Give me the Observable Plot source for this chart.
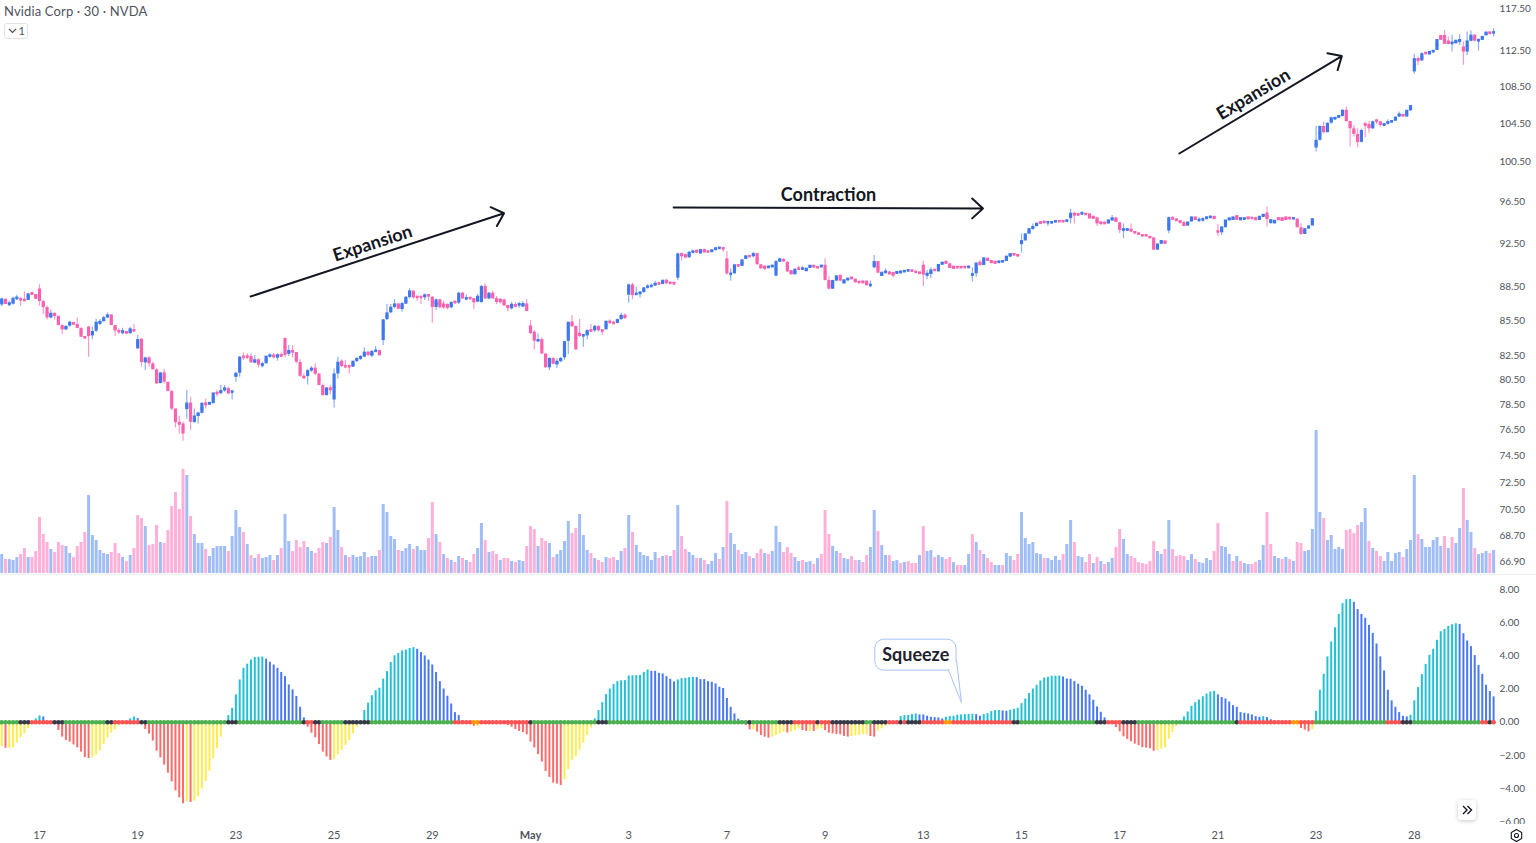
<!DOCTYPE html>
<html>
<head>
<meta charset="utf-8">
<script src="https://cdn.jsdelivr.net/npm/d3@7"></script>
<script src="https://cdn.jsdelivr.net/npm/@observablehq/plot@0.6"></script>
<style>
html,body{margin:0;padding:0;background:#fff;overflow:hidden}
#chart{position:relative;width:1536px;height:843px;font-family:Lato,sans-serif;overflow:hidden}
#chart svg.p{position:absolute;left:0}
.title{position:absolute;left:4px;top:3px;font-size:13px;color:#50535e;letter-spacing:.15px}
.tog{position:absolute;left:4px;top:23px;width:20px;height:14px;padding-right:2px;border:1px solid #e0e3eb;border-radius:3px;font-size:11px;color:#50535e;line-height:14px;text-align:right}
.tog svg{position:absolute;left:3px;top:4px}
.sep{position:absolute;left:0;top:574px;width:1536px;height:1px;background:#eef0f6}
.btn{position:absolute;left:1458px;top:800px;width:18px;height:20px;background:#fff;border-radius:3px;box-shadow:0 1px 4px rgba(0,0,0,.22)}
.gear{position:absolute;left:1509px;top:828px}
.cover{position:absolute;left:1496px;top:824px;width:40px;height:19px;background:#fff}
</style>
</head>
<body>
<div id="chart">
<div class="title">Nvidia Corp · 30 · NVDA</div>
<div class="tog"><svg width="9" height="6"><path d="M1 1l3.5 3.5L8 1" fill="none" stroke="#50535e" stroke-width="1.2"/></svg>1</div>
<div class="sep"></div>
</div>
<script>
// [open, high, low, close]
const candlesApr17 = [
[86.88,87.47,86.73,87.41],[87.38,87.38,86.91,86.91],[86.88,87.21,86.73,87.06],[86.94,87.56,86.85,87.47],[87.41,87.74,87.27,87.56],[87.41,87.56,86.76,87.32],[87.35,88.06,87.27,87.27],[87.27,87.86,87.27,87.86],[87.95,88.0,87.8,87.8],[87.8,87.8,87.38,87.38],
[88.3,88.69,86.76,87.18],[87.18,87.27,86.03,86.64],[86.64,86.79,85.56,85.73],[85.73,86.44,85.64,86.14],[86.14,86.17,85.56,85.88],[85.88,85.88,85.07,85.07],[85.07,85.16,84.3,84.7],[84.7,85.01,84.7,85.01],[85.04,85.44,84.93,85.36],[85.33,85.33,85.16,85.16],
[85.16,85.73,84.79,84.84],[84.84,84.84,84.07,84.07],[84.1,84.1,84.01,84.01],[84.93,85.01,82.38,84.13],[84.18,84.93,83.85,84.56],[84.58,85.65,84.5,85.36],[85.21,85.59,85.07,85.44],[85.41,85.88,85.36,85.76],[85.76,86.17,85.7,86.0],[86.0,86.0,85.07,85.07],
[85.07,85.07,84.13,84.61],[84.64,84.79,84.3,84.53],[84.44,84.84,84.27,84.61],[84.56,84.56,84.38,84.38],[84.38,84.93,84.27,84.79],[84.7,85.16,84.44,84.61],[83.08,84.21,83.03,83.87],[83.9,83.93,81.54,81.93],[81.9,82.38,81.26,82.32],[82.32,82.43,81.54,81.82],
[81.82,81.93,81.32,81.32],[81.32,81.4,80.16,80.16],[80.19,81.07,80.19,81.07],[81.07,81.34,80.16,80.3],[80.3,80.3,79.54,79.54],[79.54,79.62,78.01,78.14],[78.14,78.14,76.65,77.06],[77.09,77.56,76.18,76.91],[76.96,77.09,75.61,76.18],[78.09,79.62,77.35,78.62],
[78.62,79.08,76.44,77.09],[77.06,78.14,77.06,77.59],[77.56,77.88,76.96,77.83],[77.8,78.67,77.75,78.59],[78.62,78.94,78.14,78.46],[78.49,78.67,78.49,78.67],[78.57,79.43,78.57,79.43],[79.48,79.62,79.08,79.35],[79.4,80.03,79.29,79.62],[79.62,80.03,79.48,79.84],
[79.78,79.89,79.29,79.35],[79.51,79.56,78.86,79.56],[80.71,81.12,80.3,81.04],[81.04,82.43,80.71,82.38],[82.43,82.74,82.1,82.38],[82.46,82.66,82.16,82.38],[82.43,82.66,81.87,81.9],[81.9,82.52,81.82,82.16],[82.16,82.24,81.48,81.71],[81.65,81.96,81.48,81.82],
[81.82,82.46,81.82,82.46],[82.43,82.66,82.32,82.55],[82.55,82.66,82.24,82.38],[82.32,82.66,82.04,82.58],[82.6,82.72,82.32,82.43],[83.96,84.01,82.32,82.52],[82.63,83.36,82.43,82.94],[82.94,83.36,82.32,82.77],[82.77,82.8,81.82,81.96],[81.93,82.16,80.71,80.79],
[80.79,80.98,80.52,80.63],[80.76,81.32,80.08,81.26],[81.26,81.59,81.12,81.46],[81.46,81.82,80.85,80.96],[80.98,80.98,80.03,80.03],[80.03,80.16,79.18,79.21],[79.21,79.84,79.21,79.84],[79.84,80.03,79.29,79.65],[78.86,81.4,78.22,80.98],[80.98,82.38,80.57,81.96],
[82.04,82.16,81.54,81.59],[81.65,82.1,81.4,81.59],[81.65,81.68,80.98,81.59],[81.54,82.04,81.54,82.04],[82.04,82.32,81.93,82.27],[82.24,82.52,82.1,82.43],[82.38,83.17,82.32,82.8],[82.8,82.86,82.43,82.55],[82.46,82.94,82.32,82.86],[82.88,83.28,82.8,82.94],
[82.94,82.94,82.49,82.49]];
const candlesApr29 = [
[83.78,85.6,83.35,85.57],[85.59,86.91,85.51,86.18],[86.18,86.91,86.09,86.68],[86.68,87.35,86.53,86.97],[86.97,86.97,86.5,86.5],[86.47,87.12,86.24,87.0],[86.94,87.62,86.91,87.56],[87.53,88.31,87.41,88.13],[88.1,88.16,87.41,87.5],
[87.62,87.62,87.21,87.56],[87.62,87.62,86.91,87.56],[87.56,87.86,87.27,87.77],[87.77,87.8,87.21,87.68],[87.56,87.62,85.27,86.65],[86.65,87.41,86.38,87.33],[87.33,87.38,86.53,86.62],[86.97,87.21,86.5,86.62],[86.91,86.97,86.44,86.59],[86.62,87.15,86.53,87.09],
[87.18,87.27,86.97,87.06],[87.03,87.98,86.91,87.92],[87.92,87.98,87.35,87.41],[87.41,87.77,87.27,87.5],[87.53,87.56,87.32,87.44],[87.44,87.44,86.47,87.06],[87.12,87.8,87.06,87.65],[87.09,88.61,87.03,88.52],[88.52,88.76,87.35,87.41],[87.41,87.98,87.32,87.92],
[87.92,88.1,87.38,87.41],[87.44,87.62,86.91,87.09],[87.38,87.44,86.97,87.09],[87.33,87.38,86.73,86.79],[86.82,86.85,86.27,86.59],[86.53,87.12,86.44,86.94],[86.91,87.09,86.62,86.71],[86.85,87.12,86.59,86.97],[86.71,87.18,86.62,87.0],[86.97,87.33,86.27,86.3],
[85.04,85.51,84.29,84.38],[84.5,84.64,82.99,83.72],[83.72,84.35,83.72,83.86],[83.86,84.01,82.6,82.65],[82.65,82.65,81.46,81.49],[81.49,82.32,81.27,82.27],[82.27,82.32,81.74,81.79],[81.74,82.24,81.43,82.04],[82.02,82.38,81.93,82.27],[82.32,83.72,82.1,83.69],
[83.72,85.36,82.6,85.36],[85.39,85.94,84.93,84.96],[84.99,85.04,82.93,82.99],[84.41,85.62,84.07,84.15],[84.18,84.29,83.21,84.27],[84.18,84.7,83.84,84.64],[84.7,85.16,84.53,84.58],[84.61,85.07,84.5,85.01],[84.99,85.07,84.53,84.61],[84.67,84.7,84.21,84.61],
[84.7,85.45,84.7,85.45],[85.45,85.57,85.22,85.3],[85.33,85.45,85.16,85.25],[85.27,85.65,85.22,85.59],[85.59,86.15,85.51,85.97],[85.97,86.09,85.57,85.71],[87.74,88.76,87.03,88.67],[88.67,88.82,87.32,87.71],[87.83,88.46,87.71,87.89],[87.86,88.07,87.5,88.01],
[87.98,88.46,87.92,88.4],[88.43,88.7,88.31,88.55],[88.52,88.76,88.46,88.61],[88.61,89.0,88.52,88.82],[88.82,88.91,88.61,88.76],[88.7,89.09,88.7,89.09],[89.09,89.18,88.7,88.79],[88.88,88.91,88.7,88.82],[88.88,88.91,88.61,88.76],[89.28,91.57,89.06,91.51],
[91.54,91.6,90.84,91.27],[91.45,91.51,91.05,91.15],[91.15,91.73,91.08,91.67],[91.64,91.88,91.58,91.76],[91.85,91.88,91.55,91.61],[91.51,91.94,91.45,91.91],[91.91,91.98,91.58,91.64],[91.76,91.76,91.7,91.7],[91.7,91.91,91.64,91.88],[91.88,92.13,91.82,92.07],
[92.04,92.1,92.04,92.1],[92.1,92.13,91.67,91.95],[91.05,91.73,89.52,89.67],[89.64,90.13,89.0,89.7],[89.67,90.5,89.67,90.5],[90.5,90.5,90.38,90.38],[90.35,90.96,90.35,90.96],[91.02,91.33,91.02,91.33],[91.33,91.33,91.27,91.27],[91.27,91.64,91.15,91.54],
[91.54,91.54,90.5,90.5],[90.5,90.5,90.13,90.13]];
const candlesMay9 = [
[90.37,90.43,89.98,90.13],[90.22,90.37,90.22,90.37],[90.28,90.46,90.28,90.46],[89.46,90.89,89.43,90.8],[90.77,91.14,90.71,91.05],[90.99,91.08,90.77,90.83],[90.71,90.8,89.79,89.85],[89.98,89.98,89.58,89.58],
[89.58,90.1,89.58,90.1],[90.19,90.34,89.98,90.1],[90.1,90.34,89.98,90.19],[89.88,90.19,89.88,90.19],[90.19,90.46,90.19,90.46],[90.46,90.46,90.25,90.25],[90.34,90.34,90.19,90.19],[90.28,90.46,90.28,90.46],[90.46,91.05,89.01,89.07],[89.07,89.43,88.22,88.28],
[88.28,89.07,88.28,89.07],[89.01,89.49,89.01,89.49],[89.52,89.61,88.95,89.01],[88.76,89.13,88.76,89.13],[89.07,89.28,89.07,89.28],[89.37,89.37,89.19,89.19],[89.19,89.19,88.86,88.86],[88.98,88.98,88.86,88.86],[89.01,89.01,88.83,88.83],[89.01,89.01,88.58,88.58],
[88.61,89.01,88.4,88.7],[90.22,91.36,90.13,90.8],[90.8,90.8,89.73,89.73],[89.43,89.82,89.43,89.82],[89.76,90.13,89.67,89.92],[89.85,89.85,89.61,89.61],[89.79,89.85,89.31,89.49],[89.67,89.88,89.67,89.88],[89.73,89.92,89.73,89.92],[89.85,89.98,89.85,89.98],
[89.95,90.01,89.95,90.01],[90.01,90.01,89.92,89.92],[89.88,89.88,89.82,89.82],[89.82,89.82,89.7,89.7],[90.46,90.83,88.52,89.55],[89.49,89.98,89.13,89.73],[89.61,90.22,89.22,90.04],[90.07,90.07,89.98,89.98],[89.85,90.53,89.85,90.53],[90.5,90.74,90.5,90.74],
[90.8,90.89,90.53,90.59],[90.59,90.59,90.16,90.16],[90.37,90.37,90.1,90.1],[90.34,90.34,90.22,90.22],[90.34,90.34,90.22,90.22],[90.34,90.34,90.25,90.25],[90.22,90.37,90.22,90.37],[89.52,90.22,88.92,89.67],[89.67,90.74,89.37,90.65],[90.74,90.89,90.34,90.46],
[90.43,91.14,90.43,91.14],[91.11,91.11,90.83,90.83],[90.89,90.89,90.65,90.65],[90.83,90.83,90.59,90.59],[90.71,90.83,90.71,90.83],[90.74,90.89,90.74,90.89],[90.8,91.3,90.8,91.3],[91.23,91.54,91.23,91.54],[91.54,91.54,91.39,91.39],[91.45,91.45,91.3,91.3],
[92.38,93.4,91.57,92.76],[92.73,93.4,92.73,93.4],[93.37,93.9,93.37,93.9],[93.87,94.35,93.77,94.09],[94.09,94.42,94.09,94.42],[94.57,94.57,94.35,94.35],[94.6,94.6,94.45,94.45],[94.48,94.54,94.09,94.54],[94.45,94.54,94.45,94.54],[94.51,94.67,94.51,94.67],
[94.64,94.64,94.57,94.57],[94.67,94.67,94.54,94.54],[94.6,94.7,94.6,94.7],[94.86,95.77,94.35,95.38],[95.38,95.51,94.35,95.16],[95.32,95.32,95.19,95.19],[95.29,95.58,95.22,95.42],[95.35,95.35,95.26,95.26],[95.32,95.32,94.83,94.83],[95.09,95.09,94.83,94.83],
[94.93,94.99,94.09,94.35],[94.54,94.54,94.32,94.32],[94.51,94.51,94.35,94.35],[94.35,94.73,94.35,94.73],[94.67,95.16,94.6,94.93],[94.93,94.93,94.51,94.51],[94.45,94.51,93.4,93.71],[93.71,94.35,92.92,93.87],[93.74,93.87,93.74,93.87],[93.84,94.35,93.55,93.62],
[93.62,93.62,93.46,93.46],[93.46,93.46,93.37,93.37]];
const candlesMay20 = [
[93.31,93.31,93.21,93.21],[93.31,93.31,93.21,93.21],[93.15,93.15,93.02,93.02],[93.02,93.02,91.86,91.86],[91.86,92.44,91.86,92.44],[92.44,92.76,92.44,92.76],[92.73,92.73,92.44,92.44],[93.66,95.02,93.4,94.95],
[94.95,95.08,94.69,94.79],[94.82,94.82,94.63,94.63],[94.63,94.69,94.31,94.5],[94.5,94.56,94.05,94.11],[94.15,94.53,94.15,94.53],[94.53,95.02,94.53,95.02],[95.02,95.02,94.69,94.69],[94.69,94.95,94.5,94.76],[94.72,94.95,94.5,94.82],[94.82,95.02,94.82,95.02],
[94.95,95.08,94.95,95.08],[95.08,95.08,94.79,94.79],[93.66,94.31,93.15,93.56],[93.5,94.11,93.24,94.05],[93.98,94.72,93.98,94.72],[94.69,94.92,94.69,94.92],[94.69,95.02,94.69,95.02],[95.15,95.15,94.69,94.69],[94.69,94.95,94.69,94.95],[94.79,94.92,94.79,94.92],
[95.02,95.02,94.79,94.79],[94.95,94.95,94.89,94.89],[94.95,94.95,94.69,94.69],[94.69,95.08,94.69,95.08],[95.02,95.27,95.02,95.27],[95.4,95.98,94.05,94.76],[94.37,94.76,94.37,94.76],[94.37,94.69,94.37,94.69],[94.95,94.95,94.69,94.69],[94.95,94.95,94.59,94.59],
[95.02,95.02,94.69,94.69],[94.98,94.98,94.82,94.82],[94.82,94.95,94.82,94.95],[94.82,94.82,93.98,93.98],[93.98,94.37,93.24,93.34],[93.34,93.89,93.34,93.89],[93.89,94.15,93.89,94.15],[94.15,94.85,94.15,94.85]];
const candlesMay23 = [
[101.93,104.19,101.51,102.73],[102.73,104.26,102.66,104.19],[104.19,104.65,103.42,103.53],[103.53,104.54,103.53,104.54],[104.54,105.19,104.4,105.12],[104.94,105.16,104.94,105.16],[105.12,105.37,105.12,105.37],[105.26,105.99,105.19,105.92],[105.92,106.28,104.65,104.72],[104.72,104.72,102.03,103.94],
[103.94,104.29,103.07,103.35],[103.35,103.94,101.96,102.48],[102.52,103.91,102.45,103.77],[104.47,104.65,103.0,104.29],[104.4,104.72,103.49,103.94],[103.94,104.76,103.87,104.69],[104.87,104.9,104.4,104.72],[104.69,104.72,104.12,104.29],[104.29,104.47,104.29,104.47],[104.47,104.9,104.4,104.69],
[104.65,104.8,104.65,104.8],[104.76,105.19,104.76,105.19],[105.23,105.73,105.19,105.52],[105.48,105.48,105.26,105.26],[105.19,105.92,105.19,105.92],[105.85,106.43,105.85,106.43]];
const candlesMay28 = [
[110.14,112.13,109.88,111.64],[111.64,111.83,110.85,111.38],[111.38,112.31,111.31,112.2],[112.35,112.35,112.2,112.2],[112.09,112.46,112.09,112.46],[112.39,112.58,112.39,112.58],[112.58,113.83,112.58,113.83],[114.3,114.3,113.75,113.75],[114.3,114.9,113.28,113.28],[113.67,114.13,113.24,113.28],
[113.36,114.3,112.39,113.51],[113.36,113.75,113.36,113.75],[113.55,114.4,113.16,113.83],[112.97,113.55,110.89,112.39],[112.39,114.7,112.01,113.67],[113.63,114.82,113.55,114.35],[114.35,114.35,113.63,113.63],[113.63,113.94,112.5,113.83],[113.75,114.2,113.75,114.2],[114.28,114.7,114.28,114.7],
[114.7,114.7,114.5,114.5],[114.62,115.1,114.13,114.7]];

const volume = [
19,14,14,13,16,19,25,16,16,22,56,39,31,24,21,31,28,27,20,16,27,31,41,78,38,33,23,20,19,21,
30,20,16,12,18,25,58,55,47,28,29,48,31,30,43,67,81,64,104,98,57,39,30,30,24,17,25,27,27,27,
22,37,63,46,41,29,18,15,19,15,16,18,13,18,25,59,32,22,33,26,32,26,22,20,25,31,30,36,66,43,
26,18,16,18,16,17,21,16,17,17,23,69,61,37,34,23,22,25,29,24,27,23,23,35,71,39,31,19,15,13,
11,17,15,13,11,19,25,50,33,21,22,19,13,15,15,12,11,13,12,27,47,44,27,35,32,30,16,19,23,32,
52,40,45,59,38,23,20,15,13,11,16,15,16,13,22,25,58,41,28,21,18,17,13,21,15,17,18,17,23,68,
37,24,21,18,15,15,13,9,12,20,14,26,72,40,29,23,19,21,17,15,20,24,20,19,22,47,31,21,26,20,
16,12,13,11,12,9,15,19,63,39,27,22,20,15,14,17,13,13,11,18,26,63,42,28,18,18,12,13,10,11,
12,10,10,18,47,22,23,16,18,16,14,16,11,8,8,8,19,39,31,23,19,15,11,8,8,8,20,17,13,19,
61,35,29,31,20,19,15,15,13,17,13,19,29,53,31,17,16,11,19,10,16,12,9,11,15,26,44,34,19,17,
15,11,10,9,12,32,22,19,24,53,24,17,18,17,13,19,14,11,10,15,13,22,50,27,26,19,12,17,12,10,
9,9,11,13,28,61,29,17,15,14,16,14,12,31,30,22,23,44,143,61,55,33,38,24,26,24,43,44,40,48,
51,65,32,25,22,17,12,21,12,20,21,16,24,33,98,39,34,26,26,33,36,27,37,25,36,30,45,85,53,41,
25,19,20,22,20,23];
const volumeSide = "bpbbbppbpp"+"pppbpppbbp"+"pppbbbbbbp"+"ppbpbpppbp"+"ppbppppppb"+"pbbbpbbbbb"+"pbbbpbpbpb"+"bbpbpbbppp"+"pbbpppbpbb"+"pbpbbbbpbb"+
"pbbbbpbbbp"+"bbbppbpbpb"+"pbpbppbbpb"+"ppbppbpbbp"+"ppbppbpbbb"+"bppbbbpbpp"+"bppbbpbpbb"+"bbbbpbpbpb"+"ppbbpbpbbb"+"pbpbbpbbpb"+
"ppbpbbbppp"+"bbpbbpbppp"+"bbpbbppbpp"+"bbpbbpbbpb"+"pppbpbbpbb"+"ppbppbbpbp"+"bppbbpbbpp"+"bbbbbbpbbb"+"bpbbpbbppb"+"pbpbbppbbp"+
"ppppppbbpb"+"ppppbbpbbb"+"bppbbbpbpb"+"bppbbppbbp"+"bpbppbbbbb"+"pbbbbbpppp"+"bbpbppbbbb"+"bpbbbpbbbb"+"bbpbpbbpbb"+"pbbbpb";

const momentum = [
-1.47,-1.57,-1.57,-1.55,-1.25,-.95,-.7,-.4,-.05,.2,.38,.32,.02,-.02,-.05,-.5,-.9,-1.1,-1.2,-1.37,
-1.55,-1.8,-2.13,-2.19,-2.15,-1.97,-1.73,-1.35,-.95,-.66,-.46,-.2,.05,.08,.2,.32,.22,.05,-.44,-.72,
-1.14,-1.75,-2.15,-2.59,-3.07,-3.6,-4.14,-4.56,-4.92,-4.8,-4.84,-4.76,-4.48,-4.04,-3.57,-2.95,-2.2,-1.58,-.9,-.05,
.4,.84,1.65,2.55,3.25,3.5,3.75,3.9,3.92,3.93,3.8,3.62,3.45,3.25,3.0,2.75,2.25,1.95,1.55,.9,
.26,-.3,-.66,-.94,-1.35,-1.8,-2.1,-2.3,-2.25,-1.97,-1.7,-1.4,-1.1,-.7,-.3,.05,.7,1.15,1.6,1.9,
2.05,2.6,3.05,3.6,4.0,4.15,4.3,4.35,4.45,4.5,4.4,4.2,4.0,3.75,3.45,3.0,2.45,2.0,1.57,1.1,
.58,.4,.1,.02,.01,-.25,-.25,-.05,-.05,-.05,-.05,-.1,-.14,-.14,-.2,-.3,-.44,-.56,-.62,-.76,
-1.2,-1.55,-1.95,-2.4,-2.97,-3.33,-3.67,-3.73,-3.82,-3.47,-2.85,-2.3,-2.1,-1.7,-1.27,-.8,-.35,.2,.7,1.18,
1.67,2.0,2.27,2.45,2.5,2.51,2.79,2.8,2.81,2.82,3.0,3.15,3.07,3.07,2.95,2.91,2.75,2.59,2.43,2.55,
2.63,2.65,2.69,2.71,2.69,2.57,2.57,2.45,2.41,2.31,2.11,2.03,1.43,.9,.5,.18,.1,-.2,-.46,-.46,
-.6,-.8,-.9,-.96,-.9,-.8,-.7,-.6,-.65,-.6,-.5,-.4,-.5,-.55,-.55,-.56,-.46,-.4,-.5,-.66,
-.7,-.74,-.76,-.86,-.9,-.86,-.82,-.8,-.76,-.76,-.86,-.9,-.54,-.4,-.24,-.1,-.02,.1,.34,.4,
.41,.46,.5,.44,.44,.36,.3,.28,.26,.2,.3,.34,.36,.42,.44,.46,.47,.48,.46,.36,
.46,.52,.64,.7,.71,.68,.66,.72,.78,.84,1.12,1.4,1.73,2.0,2.23,2.49,2.67,2.71,2.77,2.78,
2.79,2.73,2.61,2.59,2.45,2.29,2.17,1.93,1.65,1.33,.92,.6,.26,.06,.02,-.32,-.58,-.88,-1.04,-1.18,
-1.32,-1.42,-1.54,-1.56,-1.6,-1.76,-1.72,-1.62,-1.54,-1.04,-.62,-.24,-.02,.32,.62,.96,1.18,1.34,1.54,1.7,
1.82,1.86,1.65,1.49,1.4,1.22,1.0,.9,.58,.54,.5,.44,.34,.3,.34,.28,.15,.08,.06,.05,
.08,.1,.02,-.1,-.38,-.48,-.58,-.44,.66,1.93,2.89,3.94,4.84,5.7,6.5,7.15,7.39,7.41,7.23,6.79,
6.5,6.27,5.84,5.36,4.72,3.94,3.09,1.93,1.29,.9,.58,.36,.32,.42,1.29,2.09,2.87,3.49,4.04,4.4,
4.94,5.46,5.6,5.78,5.88,5.94,5.9,5.34,4.9,4.56,4.02,3.43,2.89,2.23,1.85,1.53];

const squeezeRuns = [["g",5],["k",3],["r",6],["k",3],["g",11],["k",2],["r",7],["k",2],["g",21],["k",3],["g",17],["k",1],["r",2],["k",2],["g",6],["k",7],["g",22],["r",5],["o",2],["r",13],["k",1],["g",17],["k",3],["g",37],["k",1],["g",7],["k",4],["r",6],["k",1],["r",3],["k",9],["g",2],["k",4],["r",3],["k",1],["r",1],["k",4],["r",6],["o",2],["r",16],["k",2],["g",20],["k",3],["r",4],["k",4],["g",26],["k",1],["r",14],["o",2],["r",4],["g",19],["r",4],["k",3],["g",18],["r",2],["k",1],["r",1]];

const priceTicks = [117.5,112.5,108.5,104.5,100.5,96.5,92.5,88.5,85.5,82.5,80.5,78.5,76.5,74.5,72.5,70.5,68.7,66.9];
const momentumTicks = [8,6,4,2,0,-2,-4,-6];
const dayBars = [10,36,62,88,114,166,192,218,244,270,296,322,348,374];
const dayLabels = ["17","19","23","25","29","3","7","9","13","15","17","21","23","28"];
const monthBars = [140];
const monthLabels = ["May"];

const arrows = [
  {i1:65.9,p1:87.63,i2:133.0,p2:95.38},
  {i1:177.9,p1:95.93,i2:259.8,p2:95.84},
  {i1:311.8,p1:101.36,i2:354.8,p2:111.93}
];
const notes = [
  {i:98.2,p:92.48,t:"Expansion",r:-18},
  {i:218.9,p:97.12,t:"Contraction",r:0},
  {i:331.4,p:107.64,t:"Expansion",r:-31}
];
const calloutBox = [{i1:231.3,i2:252.8,v1:3.11,v2:4.98}];
const calloutTail = [{i:250.7,v:3.11},{i:254.1,v:1.19},{i:252.8,v:3.72}];
const calloutLabel = [{i:242,v:4.05,t:"Squeeze"}];

const UP="#3f78ee", DOWN="#fb62ae", UPW="#8dafF5", DOWNW="#fd98ca";
const VOLUP="#a0bdf6", VOLDOWN="#ffb0d9";
const DOT={g:"#4caf50",k:"#363a45",r:"#ff5252",o:"#ff9800"};
const FONT="Lato,sans-serif";

const candles=[...candlesApr17,...candlesApr29,...candlesMay9,...candlesMay20,...candlesMay23,...candlesMay28]
  .map(([o,h,l,c],i)=>({i,o,h,l,c,mid:Math.sqrt(o*c),up:c>=o}));
const vols=volume.map((v,i)=>({i,v,col:volumeSide[i]==="b"?VOLUP:VOLDOWN}));
const mom=momentum.map((v,i)=>{
  const prev=i?momentum[i-1]:v;
  const col=v>=0?(v>prev?"#22c1d6":"#4a78f5"):(v<prev?"#ff6b6b":"#ffec4f");
  return {i,v,col};
});
const dots=squeezeRuns.flatMap(([k,n])=>Array(n).fill(k)).map((k,i)=>({i,col:DOT[k]}));

const xs={domain:[-0.326,395.5],axis:null};
const base={width:1536,marginLeft:0,marginRight:41,x:xs,color:{type:"identity"},style:{background:"transparent",overflow:"visible"}};
const fmt=d=>d.toFixed(2).replace("-","\u2212");
const chart=document.getElementById("chart");
function add(svg,top){svg.classList.add("p");svg.style.top=top+"px";chart.appendChild(svg);}

add(Plot.plot({...base,height:573,marginTop:0,marginBottom:0,
  y:{domain:[0,573],axis:null},
  marks:[Plot.ruleX(vols,{x:"i",y1:0,y2:"v",stroke:"col",strokeWidth:3})]
}),0);

add(Plot.plot({...base,height:573,marginTop:0,marginBottom:0,
  y:{type:"log",domain:[66.09,118.45],axis:null},
  marks:[
    Plot.ruleX(candles,{x:"i",y1:"l",y2:"h",stroke:d=>d.up?UPW:DOWNW,strokeWidth:1.2}),
    Plot.ruleX(candles,{x:"i",y1:"o",y2:"c",stroke:d=>d.up?UP:DOWN,strokeWidth:3.2}),
    Plot.dot(candles,{x:"i",y:"mid",symbol:"square",r:1.5,fill:d=>d.up?UP:DOWN}),
    Plot.axisY(priceTicks,{anchor:"right",tickSize:0,tickPadding:4,tickFormat:fmt,label:null,fontSize:10,fontFamily:FONT,color:"#50535e"}),
    Plot.arrow(arrows,{x1:"i1",y1:"p1",x2:"i2",y2:"p2",stroke:"#131722",strokeWidth:2,headLength:11,headAngle:85,bend:0}),
    Plot.text(notes,{x:"i",y:"p",text:"t",rotate:"r",fill:"#131722",fontSize:18,fontWeight:700,fontFamily:FONT,style:"letter-spacing:.8px"})
  ]
}),0);

add(Plot.plot({...base,height:268,marginTop:0,marginBottom:19,
  y:{domain:[-6.17,8.85],axis:null},
  marks:[
    Plot.ruleX(mom,{x:"i",y1:0,y2:"v",stroke:"col",strokeWidth:2}),
    Plot.dot(dots,{x:"i",y:()=>0,fill:"col",r:2.3}),
    Plot.axisY(momentumTicks,{anchor:"right",tickSize:0,tickPadding:4,tickFormat:fmt,label:null,fontSize:10,fontFamily:FONT,color:"#50535e"}),
    Plot.axisX(dayBars,{anchor:"bottom",tickSize:0,tickPadding:7,tickFormat:d=>dayLabels[dayBars.indexOf(d)],label:null,fontSize:11,fontFamily:FONT,color:"#50535e"}),
    Plot.axisX(monthBars,{anchor:"bottom",tickSize:0,tickPadding:7,tickFormat:d=>monthLabels[monthBars.indexOf(d)],label:null,fontSize:11,fontWeight:700,fontFamily:FONT,color:"#50535e"}),
    Plot.rect(calloutBox,{x1:"i1",x2:"i2",y1:"v1",y2:"v2",fill:"white",stroke:"#a9c2f8",rx:9}),
    Plot.line(calloutTail,{x:"i",y:"v",fill:"white",stroke:"none"}),
    Plot.line(calloutTail,{x:"i",y:"v",stroke:"#a9c2f8",strokeWidth:1}),
    Plot.text(calloutLabel,{x:"i",y:"v",text:"t",fill:"#1e222d",fontSize:18,fontWeight:700,fontFamily:FONT,style:"letter-spacing:.8px"})
  ]
}),575);

chart.insertAdjacentHTML("beforeend",`<div class="cover"></div>
<div class="btn"><svg width="18" height="20"><path d="M5 6l4 4-4 4M9.5 6l4 4-4 4" fill="none" stroke="#131722" stroke-width="1.4"/></svg></div>
<svg class="gear" width="15" height="15"><path d="M7.5 1.5L12.7 4.5V10.5L7.5 13.5L2.3 10.5V4.5Z" fill="none" stroke="#131722" stroke-width="1.1"/><circle cx="7.5" cy="7.5" r="2" fill="none" stroke="#131722" stroke-width="1.1"/></svg>`);
</script>
</body>
</html>
